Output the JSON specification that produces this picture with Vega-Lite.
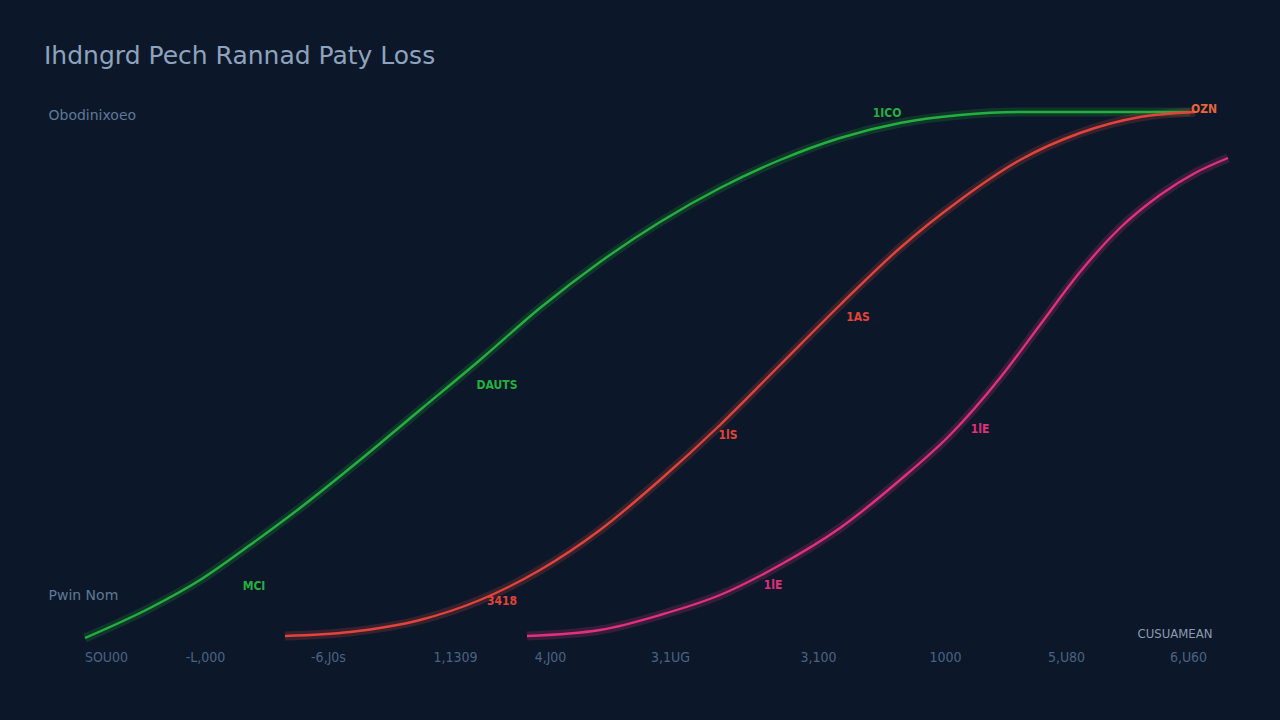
{
  "$schema": "https://vega.github.io/schema/vega-lite/v6.json",
  "autosize": {"type": "none"},
  "width": 1150,
  "height": 530,
  "padding": {"left": 80, "top": 110, "right": 50, "bottom": 80},
  "background": "#0c1829",
  "config": {"view": {"stroke": null}, "font": "DejaVu Sans"},
  "title": {
    "text": "Ihdngrd Pech Rannad Paty Loss",
    "anchor": "start",
    "dx": -4,
    "offset": 25,
    "fontSize": 25,
    "fontWeight": "normal",
    "color": "#8ea3be",
    "font": "DejaVu Sans"
  },
  "datasets": {
    "curves": [
      {"series": "g", "x": 0.5, "y": 0.2}, {"series": "g", "x": 7, "y": 3.2}, {"series": "g", "x": 12, "y": 6},
      {"series": "g", "x": 17, "y": 9.5}, {"series": "g", "x": 22, "y": 13.2}, {"series": "g", "x": 28, "y": 18},
      {"series": "g", "x": 34, "y": 23}, {"series": "g", "x": 40, "y": 28}, {"series": "g", "x": 46, "y": 33.2},
      {"series": "g", "x": 52, "y": 37.8}, {"series": "g", "x": 58, "y": 41.8}, {"series": "g", "x": 64, "y": 45.2},
      {"series": "g", "x": 70, "y": 48}, {"series": "g", "x": 76, "y": 50.2}, {"series": "g", "x": 82, "y": 51.7},
      {"series": "g", "x": 88, "y": 52.5}, {"series": "g", "x": 94, "y": 52.8}, {"series": "g", "x": 102, "y": 52.8},
      {"series": "g", "x": 111, "y": 52.8},
      {"series": "r", "x": 20.5, "y": 0.4}, {"series": "r", "x": 27, "y": 0.8}, {"series": "r", "x": 34, "y": 2},
      {"series": "r", "x": 40, "y": 4}, {"series": "r", "x": 46, "y": 7}, {"series": "r", "x": 52, "y": 11},
      {"series": "r", "x": 58, "y": 16}, {"series": "r", "x": 64, "y": 21.5}, {"series": "r", "x": 70, "y": 27.5},
      {"series": "r", "x": 76, "y": 33.5}, {"series": "r", "x": 82, "y": 39.2}, {"series": "r", "x": 88, "y": 44},
      {"series": "r", "x": 94, "y": 48}, {"series": "r", "x": 100, "y": 50.7}, {"series": "r", "x": 106, "y": 52.3},
      {"series": "r", "x": 111.5, "y": 52.8},
      {"series": "p", "x": 44.7, "y": 0.4}, {"series": "p", "x": 52, "y": 1}, {"series": "p", "x": 58, "y": 2.5},
      {"series": "p", "x": 64, "y": 4.5}, {"series": "p", "x": 70, "y": 7.5}, {"series": "p", "x": 76, "y": 11.2},
      {"series": "p", "x": 82, "y": 16}, {"series": "p", "x": 87, "y": 20.5}, {"series": "p", "x": 92, "y": 26.2},
      {"series": "p", "x": 96, "y": 31.5}, {"series": "p", "x": 100, "y": 36.8}, {"series": "p", "x": 104, "y": 41.2},
      {"series": "p", "x": 108, "y": 44.5}, {"series": "p", "x": 111.5, "y": 46.7}, {"series": "p", "x": 114.8, "y": 48.2}
    ],
    "labels": [
      {"series": "g", "x": 17.4, "y": 5.4, "text": "MCI"},
      {"series": "g", "x": 41.7, "y": 25.5, "text": "DAUTS"},
      {"series": "g", "x": 80.7, "y": 52.7, "text": "1ICO"},
      {"series": "r", "x": 42.2, "y": 3.9, "text": "3418"},
      {"series": "r", "x": 64.8, "y": 20.5, "text": "1lS"},
      {"series": "r", "x": 77.8, "y": 32.3, "text": "1AS"},
      {"series": "o", "x": 112.4, "y": 53.1, "text": "OZN"},
      {"series": "p", "x": 69.3, "y": 5.5, "text": "1lE"},
      {"series": "p", "x": 90, "y": 21.1, "text": "1lE"}
    ],
    "notes": [
      {"x": 109.5, "y": 0.6, "text": "CUSUAMEAN"}
    ]
  },
  "layer": [
    {
      "data": {"name": "curves"},
      "mark": {"type": "line", "interpolate": "monotone", "strokeWidth": 9, "opacity": 0.2},
      "encoding": {
        "x": {"field": "x", "type": "quantitative", "scale": {"domain": [0, 115], "nice": false, "zero": false},
          "axis": {
            "values": [2.6, 12.5, 24.8, 37.5, 47, 59, 73.8, 86.5, 98.6, 110.8],
            "labelExpr": "{'2.6':'SOU00','12.5':'-L,000','24.8':'-6,J0s','37.5':'1,1309','47':'4,J00','59':'3,1UG','73.8':'3,100','86.5':'1000','98.6':'5,U80','110.8':'6,U60'}[toString(datum.value)]",
            "title": null, "grid": false, "domain": false, "ticks": false,
            "labelPadding": 10, "labelFontSize": 14, "labelColor": "#4a6283", "labelFont": "DejaVu Sans Condensed"
          }},
        "y": {"field": "y", "type": "quantitative", "scale": {"domain": [0, 53], "nice": false, "zero": false},
          "axis": {
            "values": [52.5, 4.5],
            "labelExpr": "datum.value > 10 ? 'Obodinixoeo' : 'Pwin Nom'",
            "title": null, "grid": false, "domain": false, "ticks": false,
            "labelAlign": "left", "labelPadding": 32, "labelFontSize": 14, "labelColor": "#5f7898", "labelFont": "DejaVu Sans"
          }},
        "color": {"field": "series", "type": "nominal", "legend": null,
          "scale": {"domain": ["g", "r", "p", "o"], "range": ["#24b03e", "#e2443c", "#e0307e", "#e8663a"]}},
        "detail": {"field": "series"}
      }
    },
    {
      "data": {"name": "curves"},
      "mark": {"type": "line", "interpolate": "monotone", "strokeWidth": 2.4},
      "encoding": {
        "x": {"field": "x", "type": "quantitative"},
        "y": {"field": "y", "type": "quantitative"},
        "color": {"field": "series", "type": "nominal", "legend": null}
      }
    },
    {
      "data": {"name": "labels"},
      "mark": {"type": "text", "fontSize": 12, "fontWeight": "bold", "font": "DejaVu Sans Condensed", "align": "center", "baseline": "middle"},
      "encoding": {
        "x": {"field": "x", "type": "quantitative"},
        "y": {"field": "y", "type": "quantitative"},
        "text": {"field": "text"},
        "color": {"field": "series", "type": "nominal", "legend": null}
      }
    },
    {
      "data": {"name": "notes"},
      "mark": {"type": "text", "fontSize": 13, "font": "DejaVu Sans Condensed", "align": "center", "baseline": "middle", "color": "#8a9bb2"},
      "encoding": {
        "x": {"field": "x", "type": "quantitative"},
        "y": {"field": "y", "type": "quantitative"},
        "text": {"field": "text"}
      }
    }
  ]
}
